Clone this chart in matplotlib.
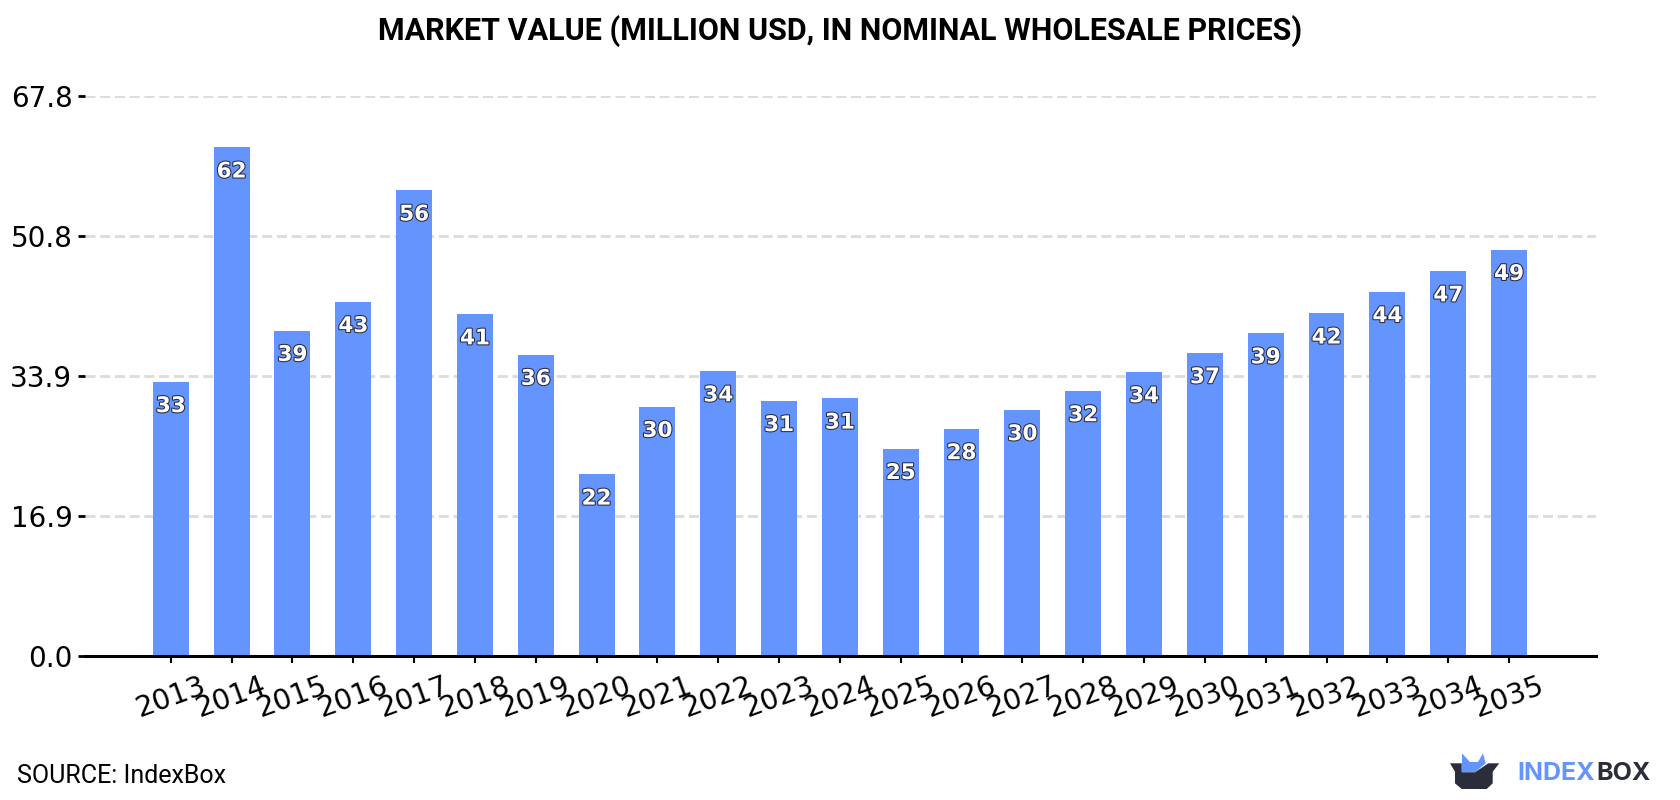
import matplotlib.pyplot as plt
import matplotlib.patheffects as pe
from matplotlib.patches import Polygon

years = list(range(2013, 2036))
values = [33.2, 61.6, 39.4, 42.9, 56.4, 41.4, 36.5, 22.0, 30.2, 34.5, 30.9, 31.2,
          25.1, 27.5, 29.8, 32.1, 34.4, 36.7, 39.1, 41.5, 44.1, 46.6, 49.2]
y_ticks = [0.0, 16.9, 33.9, 50.8, 67.8]

W, H = 1680, 800
blue = '#6495ff'
dark = '#2b2d3a'

fig = plt.figure(figsize=(W / 100, H / 100), dpi=100)
ax = fig.add_axes([85 / W, 1 - 656 / H, (1596 - 85) / W, (656 - 96) / H])

ax.bar(years, values, width=0.59, color=blue, zorder=2)
for year, val in zip(years, values):
    ax.annotate(f'{val:.0f}', (year, val), xytext=(0, -17.5), textcoords='offset points',
                ha='center', va='center', color='white', fontsize=15.5, fontweight='bold',
                family='DejaVu Sans', zorder=3,
                path_effects=[pe.withStroke(linewidth=1.5, foreground='#2a2a3a')])

ax.set_xlim(2013 - 1.41, 2035 + 1.43)
ax.set_ylim(0, 67.8)
ax.set_yticks(y_ticks)
ax.set_yticklabels([f'{t:.1f}' for t in y_ticks])
ax.set_xticks(years)
ax.set_xticklabels(years, rotation=20, ha='center')
ax.tick_params(axis='y', labelsize=20, length=5, width=2, pad=4, color='black')
ax.tick_params(axis='x', labelsize=20.5, length=5, width=1.5, pad=6)
ax.yaxis.grid(True, color='#dcdcdc', linestyle=(0, (3.6, 1.7)), linewidth=2, zorder=0)
ax.set_axisbelow(True)
for side in ['top', 'left', 'right']:
    ax.spines[side].set_visible(False)
ax.spines['bottom'].set_linewidth(2.2)

fig.text(840 / W, 1 - 31 / H, 'MARKET VALUE (MILLION USD, IN NOMINAL WHOLESALE PRICES)',
         ha='center', va='center', fontsize=22, fontweight='bold', family='Roboto')
fig.text(17 / W, 1 - 776 / H, 'SOURCE: IndexBox', ha='left', va='center',
         fontsize=18, family='Roboto')

# logo: box with blue flaps, then the two-tone wordmark
def px(points):
    return [(x / W, 1 - y / H) for x, y in points]

fig.add_artist(Polygon(px([(1462, 772.3), (1462, 753.3), (1470, 762), (1478, 762), (1483, 753.3),
                           (1485.7, 763.3), (1475, 772.3)]),
                       closed=True, facecolor=blue, edgecolor='none', transform=fig.transFigure))
fig.add_artist(Polygon(px([(1450, 763.3), (1461.7, 763.3), (1461.7, 772.3), (1475, 772.3),
                           (1488.3, 763.3), (1499.3, 763.3), (1492.7, 771.7), (1492.7, 783.3),
                           (1486.7, 789), (1461.7, 789), (1455, 783.3), (1455, 771.7)]),
                       closed=True, facecolor=dark, edgecolor='none', transform=fig.transFigure))
fig.text(1517 / W, 1 - 773.5 / H, 'INDEX', color=blue, ha='left', va='center',
         fontsize=18, fontweight='bold', family='Inter')
fig.text(1596 / W, 1 - 773.5 / H, 'BOX', color=dark, ha='left', va='center',
         fontsize=18, fontweight='bold', family='Inter')

plt.savefig('out.png', dpi=100)
